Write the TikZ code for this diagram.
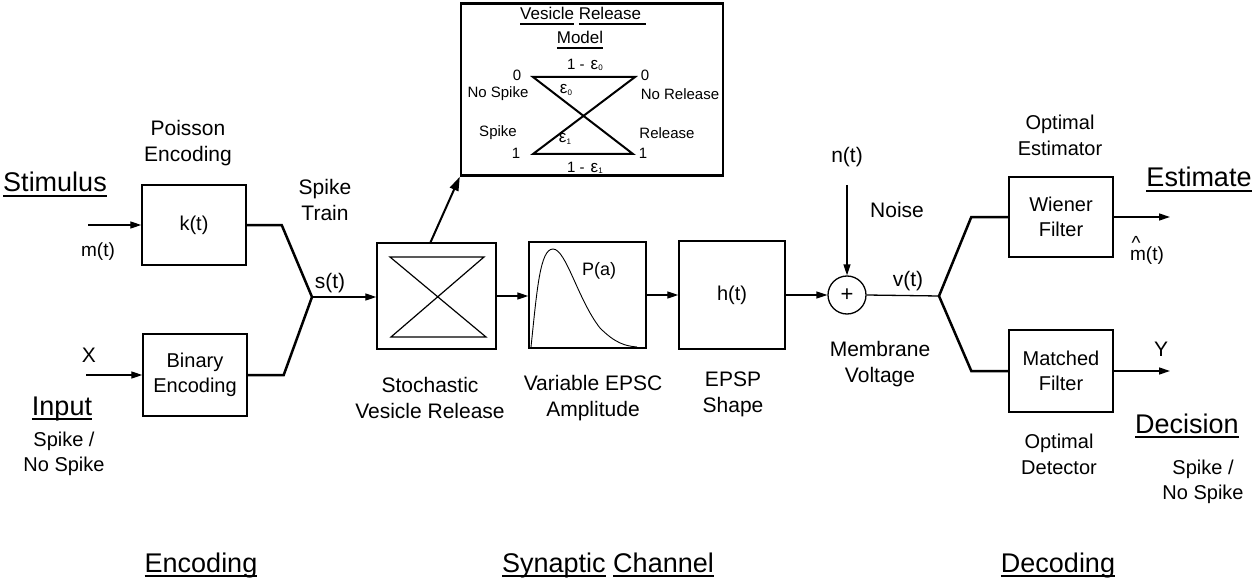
\documentclass[tikz,border=0pt]{standalone}
\usepackage{fontspec}
\setmainfont{Liberation Sans}
\usetikzlibrary{arrows.meta, positioning, calc}
\newcommand{\epsi}[1]{{\fontsize{17}{17}\selectfont ε}\raisebox{-1.5pt}{\fontsize{8}{8}\selectfont #1}}
\newsavebox{\ulbox}
\newcommand{\ulword}[1]{\sbox{\ulbox}{#1}\rlap{\rule[-5pt]{\wd\ulbox}{1.6pt}}\usebox{\ulbox}}

\begin{document}
\begin{tikzpicture}[x=1pt, y=-1pt,
    box/.style={draw, line width=1.4pt, align=center, inner sep=0pt, font=\fontsize{20}{25}\selectfont},
    lbl/.style={align=center, inner sep=0pt, font=\fontsize{21}{26}\selectfont},
    sml/.style={align=center, inner sep=0pt, font=\fontsize{20}{25}\selectfont},
    head/.style={anchor=base, inner sep=0pt, font=\fontsize{27}{30}\selectfont},
    mdl/.style={inner sep=0pt, font=\fontsize{15}{18}\selectfont},
    arr/.style={-{Triangle[length=11pt, width=7pt]}, line width=1.3pt},
    branch/.style={line width=2.5pt}]
    \useasboundingbox (0,0) rectangle (1255,580);

    % encoding
    \node[box, minimum width=104pt, minimum height=80pt] (kt) at (194,225) {k(t)};
    \node[box, minimum width=104pt, minimum height=82pt] (binenc) at (195,375) {Binary\\Encoding};
    \node[lbl] (poisson) at (188,143) {Poisson\\Encoding};
    \node[lbl] (train) at (325,200) {Spike\\Train};
    \node[lbl] (st) at (330,283) {s(t)};
    \node[head] (stim) at (55,192) {\ulword{Stimulus}};
    \node[sml, font=\fontsize{19}{25}\selectfont] (mt) at (98,252) {m(t)};
    \node[lbl] (xlab) at (89,355) {X};
    \node[head] (input) at (62,415) {\ulword{Input}};
    \node[sml] (spkin) at (64,454) {Spike /\\No Spike};
    \coordinate (min) at (88,225);
    \coordinate (xin) at (86,375);
    \coordinate (jin) at (312,297);
    \draw[arr] (min) -- (kt.west);
    \draw[arr] (xin) -- (binenc.west);
    \draw[branch] (kt.east) -- ++(35,0) -- (jin) -- ($(binenc.east)+(36,0)$) -- (binenc.east);

    % synaptic channel
    \node[box, minimum width=119pt, minimum height=106pt] (svr) at (436.5,296) {};
    \node[box, minimum width=117pt, minimum height=106pt] (epsc) at (587.5,295) {};
    \node[box, minimum width=106pt, minimum height=108pt] (epsp) at (732,295) {h(t)};
    \draw[line width=1.2pt] (390,257) -- (484,257) -- (391,337) -- (486,337) -- cycle;
    \draw[line width=0.9pt] (531,347) .. controls (537,290) and (540,249) .. (553,249)
        .. controls (566,249) and (578,300) .. (600,328)
        .. controls (615,343) and (625,346) .. (637,347);
    \node[sml, font=\fontsize{18}{25}\selectfont] (pa) at (599,271) {P(a)};
    \node[lbl] (svrlab) at (430,398) {Stochastic\\Vesicle Release};
    \node[lbl] (epsclab) at (593,398) {Variable EPSC\\Amplitude};
    \node[lbl] (epsplab) at (733,394) {EPSP\\Shape};
    \draw[arr] (jin) -- (jin -| svr.west);
    \draw[arr] (svr.east) -- (svr.east -| epsc.west);
    \draw[arr] (epsc.east) -- (epsc.east -| epsp.west);

    % vesicle release model
    \node[draw, line width=2.4pt, minimum width=262pt, minimum height=172pt, inner sep=0pt] (model) at (592,89.5) {};
    \draw[line width=2pt] (533,77) -- (635,77) -- (533,154) -- (633,154) -- cycle;
    \node[mdl, font=\fontsize{17}{20}\selectfont] (mtitle) at (583,16) {\ulword{Vesicle} \ulword{Release\ }};
    \node[mdl, font=\fontsize{17}{20}\selectfont] (mmodel) at (580,40) {\ulword{Model}};
    \node[mdl] (p00) at (585,65) {1 -\hspace{6pt}\epsi{0}};
    \node[mdl] (zl) at (517,75) {0};
    \node[mdl] (nospk) at (498,94) {No Spike};
    \node[mdl] (e0) at (566,90) {\epsi{0}};
    \node[mdl] (zr) at (645,75) {0};
    \node[mdl] (norel) at (680,94) {No Release};
    \node[mdl] (spk) at (498,133) {Spike};
    \node[mdl] (ol) at (516,153) {1};
    \node[mdl] (e1) at (565,139) {\epsi{1}};
    \node[mdl] (rel) at (667,133) {Release};
    \node[mdl] (or) at (643,153) {1};
    \node[mdl] (p11) at (585,168) {1 -\hspace{6pt}\epsi{1}};
    \draw[arr, line width=2pt, -{Triangle[length=14pt, width=9pt]}] ([xshift=-6pt]svr.north) -- (model.south west);

    % decoding
    \node[draw, circle, line width=1.3pt, minimum size=38pt, inner sep=0pt, font=\fontsize{22}{22}\selectfont] (sum) at (847,295) {+};
    \node[box, minimum width=104pt, minimum height=80pt] (wiener) at (1061,217) {Wiener\\Filter};
    \node[box, minimum width=104pt, minimum height=82pt] (matched) at (1061,371) {Matched\\Filter};
    \node[lbl] (nt) at (847,157) {n(t)};
    \node[lbl] (noise) at (897,210) {Noise};
    \node[lbl] (vt) at (908,281) {v(t)};
    \node[lbl] (memb) at (880,364) {Membrane\\Voltage};
    \node[lbl, font=\fontsize{20}{26}\selectfont] (optest) at (1060,135) {Optimal\\Estimator};
    \node[lbl, font=\fontsize{20}{26}\selectfont] (optdet) at (1059,454) {Optimal\\Detector};
    \node[head] (estim) at (1199,187) {\ulword{Estimate}};
    \node[head] (decis) at (1187,433) {\ulword{Decision}};
    \node[sml, font=\fontsize{19}{25}\selectfont] (mhatlab) at (1147,250) {\rlap{\hspace{1.5pt}\raisebox{11pt}{\textasciicircum}}m(t)};
    \node[lbl] (ylab) at (1161,349) {Y};
    \node[sml] (spkout) at (1203,482) {Spike /\\No Spike};
    \coordinate (nin) at (847,185);
    \coordinate (jout) at (939,296);
    \coordinate (mhat) at (1170,217);
    \coordinate (yout) at (1170,371);
    \draw[arr] (nin) -- (sum.north);
    \draw[arr] (epsp.east) -- (sum.west);
    \draw[line width=1.3pt] (sum.east) -- (jout);
    \draw[branch] (wiener.west) -- ++(-37,0) -- (jout) -- ($(matched.west)+(-37,0)$) -- (matched.west);
    \draw[arr] (wiener.east) -- (mhat);
    \draw[arr] (matched.east) -- (yout);

    % section titles
    \node[head] (secenc) at (201,572) {\ulword{Encoding}};
    \node[head] (secsyn) at (608,572) {\ulword{Synaptic} \ulword{Channel}};
    \node[head] (secdec) at (1058,572) {\ulword{Decoding}};
\end{tikzpicture}
\end{document}
